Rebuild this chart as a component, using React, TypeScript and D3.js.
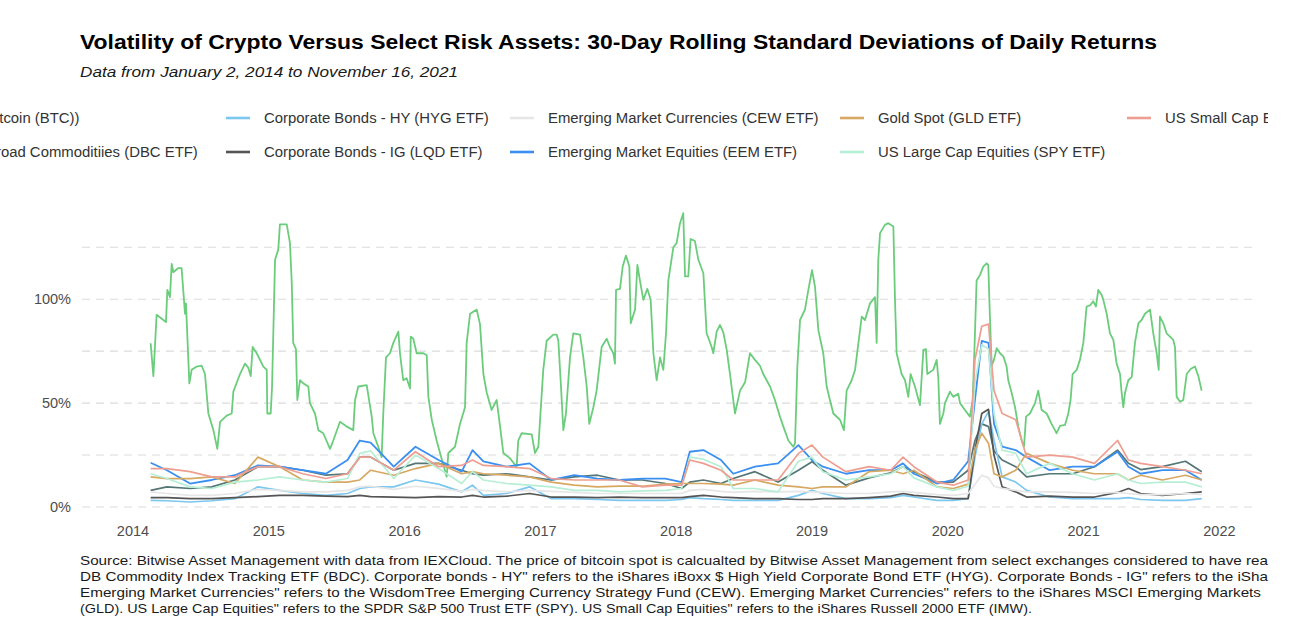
import { useMemo } from 'react'
import * as d3 from 'd3'

const W = 1298
const H = 642
const FONT = '"Liberation Sans", Arial, Helvetica, sans-serif'

// Bitcoin 30-day rolling std (%), [decimal year, value]
const btcPoints: [number, number][] = [
  [2014.13, 78.8], [2014.15, 63], [2014.174, 92.5], [2014.243, 89], [2014.253, 104.5], [2014.272, 101], [2014.285, 117],
  [2014.297, 113], [2014.334, 115], [2014.358, 115], [2014.383, 93], [2014.39, 98], [2014.415, 59.5], [2014.432, 66],
  [2014.469, 67.6], [2014.506, 68], [2014.53, 64], [2014.555, 45], [2014.592, 37], [2014.621, 28], [2014.641, 41],
  [2014.69, 44], [2014.727, 45], [2014.739, 55.5], [2014.788, 64], [2014.825, 69], [2014.849, 67], [2014.867, 63],
  [2014.881, 77], [2014.911, 74], [2014.96, 67.6], [2014.985, 66], [2014.989, 45], [2015.014, 45], [2015.024, 58],
  [2015.046, 119], [2015.07, 124], [2015.082, 136], [2015.132, 136], [2015.156, 127], [2015.169, 108], [2015.18, 79],
  [2015.2, 76], [2015.21, 51.5], [2015.23, 61], [2015.254, 59.5], [2015.291, 58], [2015.303, 50], [2015.34, 45],
  [2015.365, 37], [2015.401, 35.5], [2015.451, 28], [2015.475, 32], [2015.524, 41], [2015.574, 38.7], [2015.622, 37],
  [2015.635, 51.5], [2015.659, 58], [2015.721, 58.7], [2015.758, 43.5], [2015.77, 35.5], [2015.806, 29], [2015.831, 24],
  [2015.843, 45], [2015.863, 72], [2015.892, 74], [2015.917, 79], [2015.954, 84.4], [2015.966, 74], [2015.99, 61],
  [2016.015, 62], [2016.04, 57], [2016.045, 82], [2016.064, 81], [2016.089, 74], [2016.138, 74], [2016.163, 73],
  [2016.175, 53], [2016.2, 42], [2016.236, 32], [2016.261, 26], [2016.31, 14.6], [2016.322, 26], [2016.371, 29],
  [2016.408, 40], [2016.445, 48], [2016.457, 79], [2016.482, 93], [2016.531, 95], [2016.555, 88], [2016.568, 75.6],
  [2016.58, 64], [2016.605, 55], [2016.641, 46.7], [2016.678, 51.5], [2016.703, 38.7], [2016.727, 26], [2016.776, 23.4],
  [2016.825, 19.4], [2016.837, 32], [2016.862, 35.5], [2016.936, 35], [2016.96, 26], [2016.985, 29], [2017.021, 66],
  [2017.046, 80], [2017.095, 83], [2017.12, 83], [2017.132, 80], [2017.149, 61], [2017.169, 37], [2017.188, 45],
  [2017.218, 72], [2017.242, 83.6], [2017.292, 83], [2017.316, 72], [2017.341, 58], [2017.36, 40], [2017.39, 48],
  [2017.414, 56], [2017.451, 77], [2017.488, 81], [2017.512, 77], [2017.537, 74], [2017.549, 69], [2017.557, 104.5],
  [2017.586, 105], [2017.606, 115.7], [2017.63, 121], [2017.655, 115.7], [2017.665, 88.4], [2017.697, 95],
  [2017.714, 116.5], [2017.733, 109], [2017.758, 99.7], [2017.787, 105], [2017.812, 99.7], [2017.832, 74],
  [2017.856, 61], [2017.881, 72], [2017.905, 66], [2017.925, 83.6], [2017.942, 109], [2017.979, 125], [2018.003, 127],
  [2018.028, 136.6], [2018.052, 141.4], [2018.065, 111], [2018.089, 111], [2018.106, 129], [2018.138, 128],
  [2018.163, 119], [2018.2, 112.5], [2018.224, 83.6], [2018.261, 77], [2018.273, 74], [2018.298, 84.4], [2018.322, 87.6],
  [2018.347, 84], [2018.372, 75.6], [2018.396, 64], [2018.433, 45], [2018.47, 56], [2018.507, 60], [2018.543, 74],
  [2018.58, 70.8], [2018.617, 68], [2018.641, 64], [2018.691, 58], [2018.727, 51.5], [2018.764, 43.5], [2018.789, 38.7],
  [2018.826, 32], [2018.862, 29], [2018.875, 30.7], [2018.892, 67.6], [2018.912, 90], [2018.948, 95], [2018.973, 104.5],
  [2019.0, 114], [2019.022, 106], [2019.047, 85], [2019.083, 74], [2019.108, 58], [2019.132, 51.5], [2019.157, 45],
  [2019.206, 42], [2019.235, 37], [2019.255, 56], [2019.292, 61], [2019.317, 66], [2019.366, 91.6], [2019.39, 90],
  [2019.427, 98], [2019.464, 101], [2019.476, 79], [2019.488, 119], [2019.501, 131.8], [2019.537, 135.8],
  [2019.562, 136.6], [2019.599, 135], [2019.611, 99.7], [2019.623, 74], [2019.66, 64], [2019.685, 61], [2019.709, 53],
  [2019.726, 64], [2019.758, 58], [2019.795, 49], [2019.82, 75.6], [2019.839, 76], [2019.849, 64], [2019.893, 66],
  [2019.918, 70.8], [2019.93, 62], [2019.942, 40], [2019.967, 45], [2019.979, 50], [2020.016, 55.5], [2020.04, 53],
  [2020.077, 54.5], [2020.09, 50], [2020.126, 46.7], [2020.163, 43.5], [2020.183, 51.5], [2020.2, 83.6], [2020.212, 109],
  [2020.237, 111.7], [2020.261, 115.7], [2020.286, 117.3], [2020.298, 116.5], [2020.31, 91.6], [2020.323, 68],
  [2020.34, 70.8], [2020.36, 76.4], [2020.384, 74], [2020.409, 72.5], [2020.433, 67.6], [2020.445, 61], [2020.47, 55],
  [2020.495, 48], [2020.519, 38.7], [2020.544, 32], [2020.561, 29], [2020.576, 43.5], [2020.605, 45], [2020.642, 50],
  [2020.666, 56], [2020.691, 46.7], [2020.728, 45], [2020.764, 40], [2020.789, 37], [2020.801, 35.5], [2020.826, 39],
  [2020.863, 39.5], [2020.887, 45], [2020.904, 51.5], [2020.919, 64], [2020.949, 66], [2020.973, 70.8], [2020.998, 79],
  [2021.022, 96.5], [2021.047, 97], [2021.071, 99], [2021.091, 96.5], [2021.108, 104.5], [2021.133, 102],
  [2021.145, 99.7], [2021.17, 93], [2021.194, 83.6], [2021.219, 80.4], [2021.243, 69], [2021.268, 64], [2021.28, 55],
  [2021.292, 48], [2021.305, 55], [2021.329, 61], [2021.354, 62.5], [2021.378, 79], [2021.403, 88.4], [2021.427, 90],
  [2021.452, 93], [2021.489, 95], [2021.513, 83.6], [2021.538, 74], [2021.553, 66], [2021.562, 91.6], [2021.587, 88.4],
  [2021.611, 83.6], [2021.636, 82], [2021.66, 80.4], [2021.673, 77], [2021.685, 53], [2021.71, 50.7], [2021.734, 51.5],
  [2021.759, 64], [2021.788, 66.4], [2021.82, 67.6], [2021.845, 63], [2021.869, 56],
]

// sample dates (decimal years) shared by the other assets
const assetYears = [
  2014.13, 2014.25, 2014.42, 2014.58, 2014.75, 2014.92, 2015.08, 2015.25, 2015.42, 2015.58,
  2015.67, 2015.75, 2015.92, 2016.08, 2016.25, 2016.42, 2016.5, 2016.58, 2016.75, 2016.92,
  2017.08, 2017.25, 2017.42, 2017.58, 2017.75, 2017.92, 2018.04, 2018.1, 2018.2, 2018.33,
  2018.42, 2018.58, 2018.75, 2018.9, 2019.0, 2019.08, 2019.25, 2019.42, 2019.58, 2019.67,
  2019.75, 2019.92, 2020.04, 2020.15, 2020.2, 2020.25, 2020.3, 2020.34, 2020.4, 2020.5,
  2020.58, 2020.75, 2020.92, 2021.08, 2021.25, 2021.33, 2021.42, 2021.58, 2021.75, 2021.87,
]

const dbcValues = [
  8, 9.7, 8.9, 9.7, 13, 19.4, 19.4, 17.7, 15.3, 16,
  24, 24, 17.7, 21, 21, 17.7, 16, 15.3, 16, 14.5,
  13, 14.5, 15.3, 13, 13, 11.3, 8.9, 12, 13, 11.3,
  13.7, 17, 12, 17.7, 21.8, 17.7, 10.5, 14, 16.5, 19.4,
  17, 12, 12, 17.7, 32, 40, 38.7, 27, 22.6, 19.4,
  14.5, 16, 16, 19.4, 27.4, 21, 18, 19.4, 22, 17,
]
const hygValues = [
  3.2, 3, 2.4, 3, 4, 9.7, 8, 6.5, 5.6, 6.5,
  8.9, 9.7, 9.7, 13, 11, 7.3, 10.5, 5.6, 6.5, 9.7,
  4, 4, 3.6, 3.2, 3.2, 3.2, 3.6, 4.5, 4, 3.6,
  3.2, 3.2, 3.2, 5.6, 8, 6.5, 4, 4, 4.5, 5.6,
  4.8, 3.2, 3.2, 4, 24, 40, 46, 32, 14.5, 12,
  8, 4.8, 4, 4, 4, 4.5, 3.6, 3.2, 3.2, 4,
]
const lqdValues = [
  4.5, 4.5, 4, 4, 4.5, 5, 5.6, 5.6, 5.2, 5,
  5.6, 5, 4.8, 4.5, 5, 4.8, 5.6, 4.8, 5.2, 6.5,
  4.8, 4.8, 4.5, 4.8, 4.5, 4.5, 4.5, 5, 5.6, 4.8,
  4.5, 4, 4, 3.6, 3.6, 4, 4, 4.5, 5.2, 6.5,
  5.6, 4.8, 4, 4, 27.4, 45, 47, 25, 9.7, 7.3,
  4.8, 5.2, 4.8, 4.8, 7, 8.9, 6.5, 5.6, 6.5, 7.3,
]
const cewValues = [
  7.3, 6.5, 5.6, 5.6, 6.5, 8.5, 8, 7.3, 7.3, 8,
  9.7, 10, 8.5, 10, 9, 7.5, 8.5, 8, 7.3, 8,
  7.5, 7, 6.5, 6.5, 6.5, 6.5, 6.5, 8, 8.5, 7.5,
  7, 7.5, 7.3, 7.5, 7.3, 7, 6.5, 6.5, 7.3, 7.5,
  7, 6, 5.6, 6.5, 11, 15.3, 14, 10, 9, 8,
  7.3, 7.3, 7, 6.5, 7, 6.5, 6, 6, 6.5, 6,
]
const eemValues = [
  21.3, 17.7, 11.3, 13, 15.3, 20, 19.4, 17.7, 16, 22.6,
  32, 31, 19.4, 29, 22.6, 17, 27.4, 22, 19.4, 21,
  13, 15.3, 13.7, 13, 13.7, 13.7, 12, 26.6, 27.4, 22.6,
  16, 19.4, 21, 29.8, 22.6, 19.4, 16, 17.7, 17.7, 21,
  16, 11.3, 13, 22, 51.6, 80, 79, 40, 29, 27.4,
  24, 17.7, 19.4, 19.4, 26.6, 19.4, 16, 17.7, 17.7, 13,
]
const gldValues = [
  14.5, 13.7, 13.7, 14.5, 11.3, 24, 19.4, 13, 12, 12,
  13, 17.7, 15.3, 18.5, 21, 16, 17, 16, 15.3, 14.5,
  12, 10.5, 9.7, 10, 10, 11, 11.3, 11.3, 11.3, 11,
  10.5, 13, 10.5, 9.7, 8.9, 9.7, 9.7, 17, 17.7, 16,
  17.7, 9.7, 8.9, 11, 27.4, 35.5, 30.6, 16, 14.5, 17.7,
  25.8, 21, 17.7, 16, 16, 13, 15.3, 13, 15.3, 13,
]
const spyValues = [
  16, 13.7, 9.7, 8.9, 12, 13, 14.5, 13, 12, 13.7,
  25.8, 27, 13.7, 25, 18.5, 11.3, 17, 13, 11.3, 10.5,
  9.7, 8, 8, 7.3, 7.8, 8, 8.9, 24, 23, 19.4,
  8.9, 8.9, 7.3, 22, 24, 17, 13, 14.5, 16, 19.4,
  14, 9.7, 8, 10, 60, 78, 76, 45, 27.4, 25.8,
  16, 21, 16, 13, 16, 13, 11.3, 12, 12, 9.7,
]
const iwmValues = [
  18.5, 18.5, 17, 14.5, 14.5, 19.4, 19.4, 16, 13.7, 16,
  24, 24, 17.7, 26.6, 19.4, 20, 22.6, 20, 19.4, 18.5,
  13.7, 13, 13, 13, 9.7, 10.5, 10.5, 22.6, 21, 17.7,
  13, 13, 13, 25.8, 29.8, 24, 17, 19.4, 17.7, 24,
  19.4, 12, 10.5, 13, 71, 87, 88, 56, 45, 42,
  24, 25, 24, 21, 32, 22.6, 21, 19.4, 17.7, 16,
]

const zip = (ys: number[], vs: number[]): [number, number][] => ys.map((y, i) => [y, vs[i]])

const series = [
  { name: 'Bitcoin (BTC))', color: '#6bcd7c', points: btcPoints, width: 1.8 },
  { name: 'Broad Commoditiies (DBC ETF)', color: '#557676', points: zip(assetYears, dbcValues), width: 1.7 },
  { name: 'Corporate Bonds - HY (HYG ETF)', color: '#7cc7ef', points: zip(assetYears, hygValues), width: 1.7 },
  { name: 'Corporate Bonds - IG (LQD ETF)', color: '#555555', points: zip(assetYears, lqdValues), width: 1.7 },
  { name: 'Emerging Market Currencies (CEW ETF)', color: '#e6e6e6', points: zip(assetYears, cewValues), width: 1.7 },
  { name: 'Emerging Market Equities (EEM ETF)', color: '#3a8ff0', points: zip(assetYears, eemValues), width: 1.8 },
  { name: 'Gold Spot (GLD ETF)', color: '#d6a862', points: zip(assetYears, gldValues), width: 1.7 },
  { name: 'US Large Cap Equities (SPY ETF)', color: '#b6efd5', points: zip(assetYears, spyValues), width: 1.7 },
  { name: 'US Small Cap Equities (IWM ETF)', color: '#ee9e90', points: zip(assetYears, iwmValues), width: 1.7 },
]

const yLabelTicks = [0, 50, 100]
const yGridTicks = [0, 25, 50, 75, 100, 125]
const xTicks = [2014, 2015, 2016, 2017, 2018, 2019, 2020, 2021, 2022]

const title = 'Volatility of Crypto Versus Select Risk Assets: 30-Day Rolling Standard Deviations of Daily Returns'
const subtitle = 'Data from January 2, 2014 to November 16, 2021'
// caption as far as the reference shows it, with the width each line takes there
const captionLines = [
  'Source: Bitwise Asset Management with data from IEXCloud. The price of bitcoin spot is calcualted by Bitwise Asset Management from select exchanges considered to have rea',
  'DB Commodity Index Tracking ETF (BDC). Corporate bonds - HY" refers to the iShares iBoxx $ High Yield Corporate Bond ETF (HYG). Corporate Bonds - IG" refers to the iSha',
  'Emerging Market Currencies" refers to the WisdomTree Emerging Currency Strategy Fund (CEW). Emerging Market Currencies" refers to the iShares MSCI Emerging Markets',
  '(GLD). US Large Cap Equities" refers to the SPDR S&P 500 Trust ETF (SPY). US Small Cap Equities" refers to the iShares Russell 2000 ETF (IMW).',
]
const captionWidths = [1188, 1188, 1181, 952]

// legend is laid out column-wise, 2 rows
const legendColX = [-14, 264, 548, 878, 1165]
const legendRowY = [118, 152]

export default function App() {
  const x = useMemo(() => d3.scaleLinear().domain([2013.6245, 2022.262]).range([82, 1255]), [])
  const y = useMemo(() => d3.scaleLinear().domain([0, 141.5]).range([507, 213]), [])
  const line = d3.line<[number, number]>().x((d) => x(d[0])).y((d) => y(d[1]))

  return (
    <svg width={W} height={H} style={{ position: 'absolute', left: 0, top: 0, background: '#fff' }} fontFamily={FONT}>
      <defs>
        <clipPath id="vis-clip">
          <rect x={0} y={0} width={1268} height={H} />
        </clipPath>
      </defs>

      <text x={80} y={49} fontSize={19.5} fontWeight="bold" fill="#000" textLength={1077} lengthAdjust="spacingAndGlyphs">{title}</text>
      <text x={80} y={77} fontSize={15} fontStyle="italic" fill="#1a1a1a" textLength={378} lengthAdjust="spacingAndGlyphs">{subtitle}</text>

      <g clipPath="url(#vis-clip)">
        {series.map((s, i) => {
          const col = Math.floor(i / 2)
          const row = i % 2
          const tx = legendColX[col]
          const ty = legendRowY[row]
          return (
            <g key={s.name}>
              <line x1={tx - 38} x2={tx - 14} y1={ty} y2={ty} stroke={s.color} strokeWidth={2.6} />
              <text x={tx} y={ty + 5} fontSize={14.9} fill="#333">{s.name}</text>
            </g>
          )
        })}
      </g>

      {yGridTicks.map((t) => (
        <line key={t} x1={82} x2={1255} y1={y(t)} y2={y(t)} stroke="#dcdcdc" strokeWidth={1.1} strokeDasharray="8,6" />
      ))}
      {yLabelTicks.map((t) => (
        <text key={t} x={71} y={y(t) + 5} textAnchor="end" fontSize={14.5} fill="#4d4d4d">{`${t}%`}</text>
      ))}
      {xTicks.map((t) => (
        <text key={t} x={x(t)} y={536} textAnchor="middle" fontSize={14.5} fill="#4d4d4d">{t}</text>
      ))}

      {series.map((s) => (
        <path key={s.name} d={line(s.points) ?? ''} fill="none" stroke={s.color} strokeWidth={s.width} strokeLinejoin="round" />
      ))}

      {captionLines.map((c, i) => (
        <text key={i} x={80} y={565 + i * 16} fontSize={13.5} fill="#1a1a1a" textLength={captionWidths[i]} lengthAdjust="spacingAndGlyphs">{c}</text>
      ))}
    </svg>
  )
}
